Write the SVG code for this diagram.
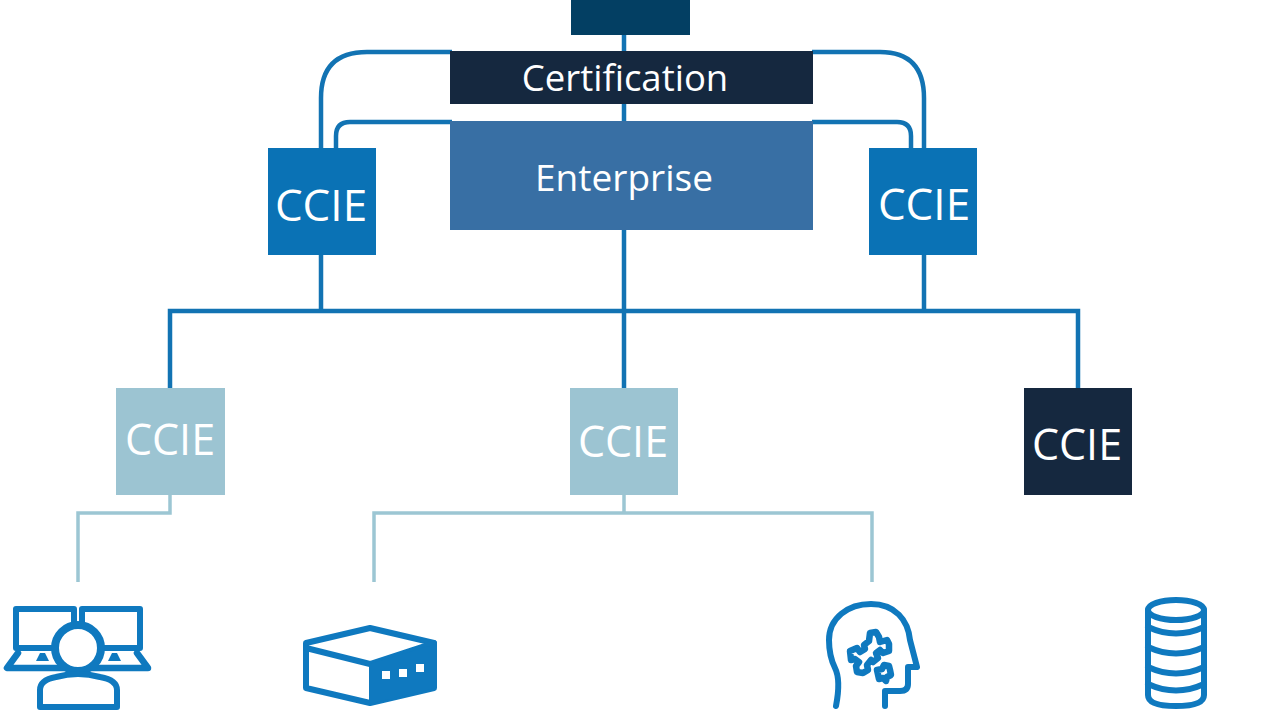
<svg xmlns="http://www.w3.org/2000/svg" width="1280" height="720" viewBox="0 0 1280 720">
<style>
.t{font-family:"Open Sans","Noto Sans","Liberation Sans",sans-serif;fill:#fff;text-anchor:middle}
.c{fill:none;stroke:#1273b3;stroke-width:4.5}
.l{fill:none;stroke:#9cc6d3;stroke-width:3.5}
.i{fill:none;stroke:#0f79bf;stroke-width:6;stroke-linejoin:round;stroke-linecap:round}
.n{fill:none;stroke:#0f79bf;stroke-width:6.5;stroke-linejoin:round;stroke-linecap:round}
.f{fill:#0f79bf}
</style>
<rect width="1280" height="720" fill="#fff"/>
<g id="connectors">
<path class="c" d="M624 34V389"/>
<path class="c" d="M452 52H367Q321 52 321 98V150"/>
<path class="c" d="M812 52H880Q924 52 924 98V150"/>
<path class="c" d="M452 122H350Q336 122 336 136V150"/>
<path class="c" d="M812 122H897Q911 122 911 136V150"/>
<path class="c" d="M321 254V311M924 254V311"/>
<path class="c" d="M170 389V311H1078V389"/>
<path class="l" d="M170 494V513H78V582"/>
<path class="l" d="M624 494V513M374 582V513H872V582"/>
</g>
<g id="top"><rect x="571" y="0" width="119" height="35" fill="#033f63"/></g>
<g id="certification"><rect x="450" y="51" width="363" height="53" fill="#15283f"/><text class="t" x="625" y="91" font-size="36.5">Certification</text></g>
<g id="enterprise"><rect x="450" y="121" width="363" height="109" fill="#386fa4"/><text class="t" x="624" y="191" font-size="37">Enterprise</text></g>
<g id="ccie-l"><rect x="268" y="148" width="108" height="107" fill="#0a72b5"/><text class="t" x="321" y="221" font-size="44">CCIE</text></g>
<g id="ccie-r"><rect x="869" y="148" width="108" height="107" fill="#0a72b5"/><text class="t" x="924" y="220" font-size="44">CCIE</text></g>
<g id="ccie-a"><rect x="116" y="388" width="109" height="107" fill="#9cc4d2"/><text class="t" x="170" y="455" font-size="43">CCIE</text></g>
<g id="ccie-b"><rect x="570" y="388" width="108" height="107" fill="#9cc4d2"/><text class="t" x="623" y="457" font-size="43">CCIE</text></g>
<g id="ccie-c"><rect x="1024" y="388" width="108" height="107" fill="#15283f"/><text class="t" x="1077" y="460" font-size="43">CCIE</text></g>
<g id="icon-user">
<path class="i" d="M16 609H74V648H16ZM82 609H140V648H82Z"/>
<path class="n" d="M18 653L7 668H148L137 653"/>
<path class="f" d="M36 661l4-8h5l4 8zM108 661l4-8h5l4 8z"/>
<circle cx="78" cy="648" r="23" fill="#fff" stroke="#0f79bf" stroke-width="8"/>
<path class="i" d="M56 677Q78 671 100 677Q117 680 117 690V707H40V690Q40 680 56 677Z"/>
</g>
<g id="icon-box">
<path class="i" d="M306 643L370 628L434 643V688L370 703L306 688Z"/>
<path class="i" d="M306 648L370 664L434 643"/>
<path class="f" d="M369 664L436 644V688L369 704Z"/>
<rect x="382" y="671" width="8" height="8" fill="#fff"/><rect x="399" y="669" width="8" height="8" fill="#fff"/><rect x="416" y="664" width="8" height="8" fill="#fff"/>
</g>
<g id="icon-head">
<path class="i" d="M836 706Q841 680 835 668Q829 656 829 640C829 618 848 604 871 604C895 604 908 620 910 640L917 667H908V684Q908 691 900 691H885V706"/>
<path class="n" d="M850 651l7-3 3 4 5-3-1-4 5-4 1-8 6-1 3 5 1 5 7-2 2 4 0 7-6 2-3-3-4 3 2 5-5 4-2-2-4 5 1 5-5 3-6-1-1-6 3-4-4-3-4 1z"/>
<path class="n" d="M877 670l5-1 2-4 5 1 1 4 1 5-4 2-1 4-3-3-4 1z"/>
</g>
<g id="icon-db">
<ellipse class="i" cx="1176" cy="610" rx="28" ry="10"/>
<path class="i" d="M1148 610V695Q1148 706 1176 706Q1204 706 1204 695V610"/>
<path class="i" d="M1148 627Q1176 640 1204 627M1148 647Q1176 660 1204 647M1148 667Q1176 680 1204 667M1148 684Q1176 697 1204 684"/>
</g>
</svg>
